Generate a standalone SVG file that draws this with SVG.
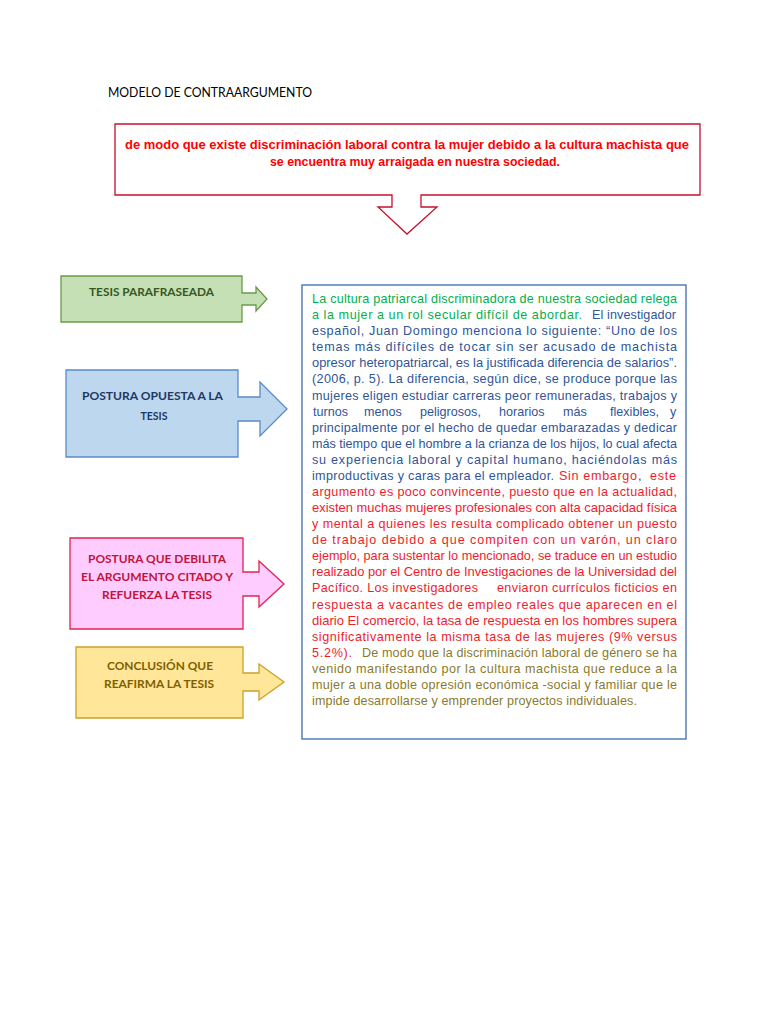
<svg xmlns="http://www.w3.org/2000/svg" width="768" height="1024" viewBox="0 0 768 1024">
<style>
.b{font-family:"Liberation Sans",Arial,sans-serif;font-size:12.6px}
.g{fill:#00B050}.u{fill:#2F5597}.r{fill:#EE1D2B}.o{fill:#8B7A2B}
.lbl{font-family:Lato,"Open Sans",sans-serif;font-weight:bold;font-size:12px;text-anchor:middle}
.shape{stroke-width:1.3;stroke-linejoin:miter}
</style>
<rect width="768" height="1024" fill="#ffffff"/>
<g id="title">
<text x="108" y="97" font-family="Lato,'Open Sans',sans-serif" font-size="12.5" fill="#000" textLength="204" lengthAdjust="spacingAndGlyphs">MODELO DE CONTRAARGUMENTO</text>
</g>
<g id="tesis-callout">
<path class="shape" d="M115,124 H700 V195 H421 V207 H437 L407,234 L378,207 H392 V195 H115 Z" fill="#ffffff" stroke="#C8102E"/>
<text x="125" y="149" font-family="'Liberation Sans',Arial,sans-serif" font-weight="bold" font-size="12" fill="#FF0000" textLength="564" lengthAdjust="spacingAndGlyphs">de modo que existe discriminación laboral contra la mujer debido a  la cultura machista que</text>
<text x="270" y="166" font-family="'Liberation Sans',Arial,sans-serif" font-weight="bold" font-size="12" fill="#FF0000" textLength="290" lengthAdjust="spacingAndGlyphs">se encuentra muy arraigada en nuestra sociedad.</text>
</g>
<g id="connectors"></g>
<g id="tesis-parafraseada">
<path class="shape" d="M61,276 H242 V293 H256 V287 L267,299 L256,311 V305 H242 V322 H61 Z" fill="#C5E0B4" stroke="#6A9A48"/>
<text class="lbl" x="151.5" y="296" fill="#385723" textLength="125" lengthAdjust="spacingAndGlyphs">TESIS PARAFRASEADA</text>
</g>
<g id="postura-opuesta">
<path class="shape" d="M66,370 H238 V397 H260 V382 L287,409 L260,436 V421 H238 V457 H66 Z" fill="#BDD7EE" stroke="#5B8AC6"/>
<text class="lbl" x="152.5" y="400" fill="#1F3864" textLength="141" lengthAdjust="spacingAndGlyphs">POSTURA OPUESTA A LA</text>
<text class="lbl" x="154" y="420" fill="#1F3864" textLength="27" lengthAdjust="spacingAndGlyphs">TESIS</text>
</g>
<g id="postura-debilita">
<path class="shape" d="M70,538 H243 V572 H259 V561 L284,584 L259,607 V596 H243 V629 H70 Z" fill="#FFCCFF" stroke="#E2224E"/>
<text class="lbl" x="157" y="563" fill="#C0143C" textLength="138" lengthAdjust="spacingAndGlyphs">POSTURA QUE DEBILITA</text>
<text class="lbl" x="157" y="581" fill="#C0143C" textLength="152" lengthAdjust="spacingAndGlyphs">EL ARGUMENTO CITADO Y</text>
<text class="lbl" x="157" y="599" fill="#C0143C" textLength="110" lengthAdjust="spacingAndGlyphs">REFUERZA LA TESIS</text>
</g>
<g id="conclusion">
<path class="shape" d="M76,647 H243 V673 H259 V664 L284,682 L259,700 V691 H243 V718 H76 Z" fill="#FFE699" stroke="#C9A227"/>
<text class="lbl" x="160" y="670" fill="#7F6000" textLength="106" lengthAdjust="spacingAndGlyphs">CONCLUSIÓN QUE</text>
<text class="lbl" x="159" y="688" fill="#7F6000" textLength="110" lengthAdjust="spacingAndGlyphs">REAFIRMA LA TESIS</text>
</g>
<g id="texto-argumento">
<rect x="302" y="285" width="384" height="454" fill="#ffffff" stroke="#3D6AA8" stroke-width="1.3"/>
<text class="b g" x="312" y="303" textLength="365" lengthAdjust="spacing">La cultura patriarcal discriminadora de nuestra sociedad relega</text>
<text class="b g" x="312" y="319.1" textLength="270" lengthAdjust="spacing">a la mujer a un rol secular difícil de abordar.</text>
<text class="b u" x="592" y="319.1" textLength="84" lengthAdjust="spacing">El investigador</text>
<text class="b u" x="312" y="335.2" textLength="365" lengthAdjust="spacing">español, Juan Domingo menciona lo siguiente: “Uno de los</text>
<text class="b u" x="312" y="351.2" textLength="365" lengthAdjust="spacing">temas más difíciles de tocar sin ser acusado de machista</text>
<text class="b u" x="312" y="367.3" textLength="365" lengthAdjust="spacingAndGlyphs">opresor heteropatriarcal, es la justificada diferencia de salarios”.</text>
<text class="b u" x="312" y="383.4" textLength="365" lengthAdjust="spacing">(2006, p. 5). La diferencia, según dice, se produce porque las</text>
<text class="b u" x="312" y="399.5" textLength="365" lengthAdjust="spacing">mujeres eligen estudiar carreras peor remuneradas, trabajos y</text>
<text class="b u" y="415.6"><tspan x="313">turnos</tspan><tspan x="364">menos</tspan><tspan x="420">peligrosos,</tspan><tspan x="499">horarios</tspan><tspan x="563">más</tspan><tspan x="610">flexibles,</tspan><tspan x="670">y</tspan></text>
<text class="b u" x="312" y="431.6" textLength="365" lengthAdjust="spacing">principalmente por el hecho de quedar embarazadas y dedicar</text>
<text class="b u" x="312" y="447.7" textLength="365" lengthAdjust="spacingAndGlyphs">más tiempo que el hombre a la crianza de los hijos, lo cual afecta</text>
<text class="b u" x="312" y="463.8" textLength="365" lengthAdjust="spacing">su experiencia laboral y capital humano, haciéndolas más</text>
<text class="b u" x="312" y="479.9" textLength="242" lengthAdjust="spacing">improductivas y caras para el empleador.</text>
<text class="b r" x="559" y="479.9" textLength="78" lengthAdjust="spacing">Sin embargo</text>
<text class="b u" x="638" y="479.9">,</text>
<text class="b r" x="650" y="479.9" textLength="26" lengthAdjust="spacing">este</text>
<text class="b r" x="312" y="496" textLength="365" lengthAdjust="spacing">argumento es poco convincente, puesto que en la actualidad,</text>
<text class="b r" x="312" y="512" textLength="365" lengthAdjust="spacingAndGlyphs">existen muchas mujeres profesionales con alta capacidad física</text>
<text class="b r" x="312" y="528.1" textLength="365" lengthAdjust="spacing">y mental a quienes les resulta complicado obtener un puesto</text>
<text class="b r" x="312" y="544.2" textLength="365" lengthAdjust="spacing">de trabajo debido a que compiten con un varón, un claro</text>
<text class="b r" x="312" y="560.3" textLength="365" lengthAdjust="spacingAndGlyphs">ejemplo, para sustentar lo mencionado, se traduce en un estudio</text>
<text class="b r" x="312" y="576.4" textLength="365" lengthAdjust="spacingAndGlyphs">realizado por el Centro de Investigaciones de la Universidad del</text>
<text class="b r" x="312" y="592.4" textLength="166" lengthAdjust="spacing">Pacífico. Los investigadores</text>
<text class="b r" x="497" y="592.4" textLength="180" lengthAdjust="spacing">enviaron currículos ficticios en</text>
<text class="b r" x="312" y="608.5" textLength="365" lengthAdjust="spacing">respuesta a vacantes de empleo reales que aparecen en el</text>
<text class="b r" x="312" y="624.6" textLength="365" lengthAdjust="spacingAndGlyphs">diario El comercio, la tasa de respuesta en los hombres supera</text>
<text class="b r" x="312" y="640.7" textLength="365" lengthAdjust="spacing">significativamente la misma tasa de las mujeres (9% versus</text>
<text class="b r" x="312" y="656.8" textLength="40" lengthAdjust="spacing">5.2%).</text>
<text class="b o" x="362" y="656.8" textLength="315" lengthAdjust="spacing">De modo que la discriminación laboral de género se ha</text>
<text class="b o" x="312" y="672.8" textLength="365" lengthAdjust="spacing">venido manifestando por la cultura machista que reduce a la</text>
<text class="b o" x="312" y="688.9" textLength="365" lengthAdjust="spacing">mujer a una doble opresión económica -social y familiar que le</text>
<text class="b o" x="312" y="705" textLength="325" lengthAdjust="spacing">impide desarrollarse y emprender proyectos individuales.</text>
</g>
</svg>
